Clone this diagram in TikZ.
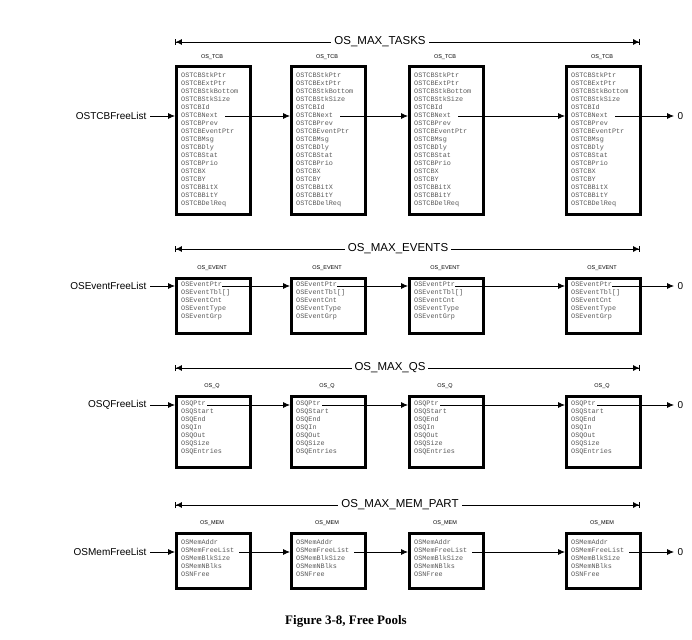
\documentclass[tikz,border=0pt]{standalone}
\usepackage{fontspec}
\setmainfont{Liberation Serif}
\newfontfamily\mysf{Liberation Sans}
\newfontfamily\mymono{Liberation Mono}
\usetikzlibrary{arrows.meta}
\begin{document}
\begin{tikzpicture}[x=1pt,y=-1pt,
  box/.style={draw,line width=2.8pt,anchor=north west,inner sep=0pt},
  fld/.style={font=\mymono\fontsize{6.8}{8}\selectfont,text=black!65,align=left,anchor=north west,inner sep=0pt},
  hdr/.style={font=\mysf\fontsize{5.5}{6}\selectfont,anchor=south},
  lbl/.style={font=\mysf\fontsize{10}{12}\selectfont},
  dim/.style={font=\mysf\fontsize{11.5}{13}\selectfont,fill=white,inner sep=3pt},
  lnk/.style={-{Latex[length=7pt,width=6pt]},line width=0.8pt},
  dl/.style={{Bar[width=6pt]Latex[length=6pt,width=6pt]}-{Latex[length=6pt,width=6pt]Bar[width=6pt]},line width=0.8pt}]
\useasboundingbox (0,0) rectangle (692,639);
% ---------- Row 1
\coordinate (d1a) at (175,42); \coordinate (d1b) at (640,42);
\draw[dl] (d1a) -- (d1b);
\node[dim] (t1) at (380,42) {OS\_MAX\_TASKS};
\foreach \i/\x in {1/175,2/290,3/408,4/565}{
  \node[box,minimum width=74pt,minimum height=148pt] (a\i) at (\x,65) {};
  \node[hdr] (ah\i) at (\x+37,63) {OS\_TCB};
  \node[fld] (af\i) at (\x+6,72) {OSTCBStkPtr\\OSTCBExtPtr\\OSTCBStkBottom\\OSTCBStkSize\\OSTCBId\\OSTCBNext\\OSTCBPrev\\OSTCBEventPtr\\OSTCBMsg\\OSTCBDly\\OSTCBStat\\OSTCBPrio\\OSTCBX\\OSTCBY\\OSTCBBitX\\OSTCBBitY\\OSTCBDelReq};
  \coordinate (ao\i) at (\x+50,116);
}
\node[lbl,anchor=east] (l1) at (150,116) {OSTCBFreeList};
\node[lbl,anchor=west] (z1) at (674,116) {0};
\draw[lnk] (l1.east) -- (a1.west|-l1.east);
\draw[lnk] (ao1) -- (a2.west|-ao1);
\draw[lnk] (ao2) -- (a3.west|-ao2);
\draw[lnk] (ao3) -- (a4.west|-ao3);
\draw[lnk] (ao4) -- (z1.west);
% ---------- Row 2
\coordinate (d2a) at (175,249); \coordinate (d2b) at (640,249);
\draw[dl] (d2a) -- (d2b);
\node[dim] (t2) at (398,249) {OS\_MAX\_EVENTS};
\foreach \i/\x in {1/175,2/290,3/408,4/565}{
  \node[box,minimum width=74pt,minimum height=55pt] (b\i) at (\x,277) {};
  \node[hdr] (bh\i) at (\x+37,274) {OS\_EVENT};
  \node[fld] (bf\i) at (\x+6,282) {OSEventPtr\\OSEventTbl[]\\OSEventCnt\\OSEventType\\OSEventGrp};
  \coordinate (bo\i) at (\x+47,286);
}
\node[lbl,anchor=east] (l2) at (150,286) {OSEventFreeList};
\node[lbl,anchor=west] (z2) at (674,286) {0};
\draw[lnk] (l2.east) -- (b1.west|-l2.east);
\draw[lnk] (bo1) -- (b2.west|-bo1);
\draw[lnk] (bo2) -- (b3.west|-bo2);
\draw[lnk] (bo3) -- (b4.west|-bo3);
\draw[lnk] (bo4) -- (z2.west);
% ---------- Row 3
\coordinate (d3a) at (175,368); \coordinate (d3b) at (640,368);
\draw[dl] (d3a) -- (d3b);
\node[dim] (t3) at (390,368) {OS\_MAX\_QS};
\foreach \i/\x in {1/175,2/290,3/408,4/565}{
  \node[box,minimum width=74pt,minimum height=71pt] (c\i) at (\x,395) {};
  \node[hdr] (ch\i) at (\x+37,392) {OS\_Q};
  \node[fld] (cf\i) at (\x+6,401) {OSQPtr\\OSQStart\\OSQEnd\\OSQIn\\OSQOut\\OSQSize\\OSQEntries};
  \coordinate (co\i) at (\x+32,405);
}
\node[lbl,anchor=east] (l3) at (150,405) {OSQFreeList};
\node[lbl,anchor=west] (z3) at (674,405) {0};
\draw[lnk] (l3.east) -- (c1.west|-l3.east);
\draw[lnk] (co1) -- (c2.west|-co1);
\draw[lnk] (co2) -- (c3.west|-co2);
\draw[lnk] (co3) -- (c4.west|-co3);
\draw[lnk] (co4) -- (z3.west);
% ---------- Row 4
\coordinate (d4a) at (175,505); \coordinate (d4b) at (640,505);
\draw[dl] (d4a) -- (d4b);
\node[dim] (t4) at (400,505) {OS\_MAX\_MEM\_PART};
\foreach \i/\x in {1/175,2/290,3/408,4/565}{
  \node[box,minimum width=74pt,minimum height=55pt] (e\i) at (\x,532) {};
  \node[hdr] (eh\i) at (\x+37,529) {OS\_MEM};
  \node[fld] (ef\i) at (\x+6,539) {OSMemAddr\\OSMemFreeList\\OSMemBlkSize\\OSMemNBlks\\OSNFree};
  \coordinate (eo\i) at (\x+64,552);
}
\node[lbl,anchor=east] (l4) at (150,552) {OSMemFreeList};
\node[lbl,anchor=west] (z4) at (674,552) {0};
\draw[lnk] (l4.east) -- (e1.west|-l4.east);
\draw[lnk] (eo1) -- (e2.west|-eo1);
\draw[lnk] (eo2) -- (e3.west|-eo2);
\draw[lnk] (eo3) -- (e4.west|-eo3);
\draw[lnk] (eo4) -- (z4.west);
\node[font=\bfseries\fontsize{13}{15}\selectfont] (cap) at (346,621) {Figure 3-8, Free Pools};
\end{tikzpicture}
\end{document}
